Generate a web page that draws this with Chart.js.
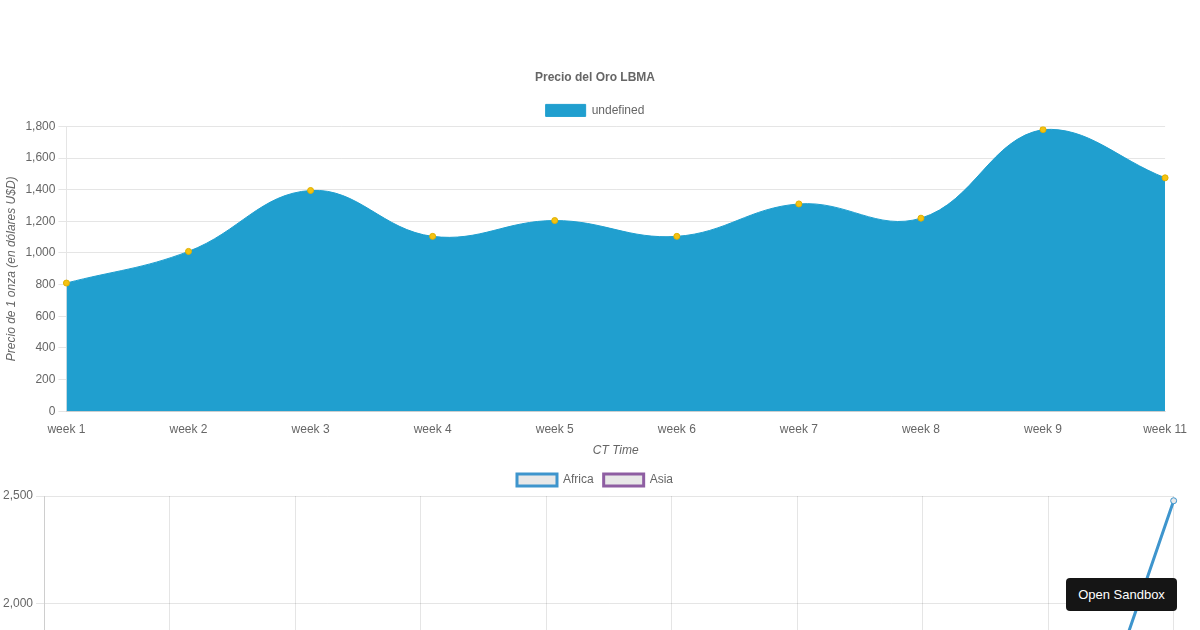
<!DOCTYPE html>
<html><head><meta charset="utf-8">
<script src="https://cdn.jsdelivr.net/npm/chart.js@4"></script>
<style>
html,body{margin:0;padding:0;background:#fff;overflow:hidden;width:1200px;height:630px;font-family:"Liberation Sans",Arial,sans-serif}
#c1w{position:absolute;left:0;top:62px;width:1190px;height:400px}
#c2w{position:absolute;left:0;top:464px;width:1190px;height:600px}
#btn{position:absolute;left:1066px;top:578px;width:111px;height:33px;background:#151515;color:#fff;border-radius:4px;font-size:13px;line-height:33px;text-align:center}
</style></head><body>
<div id="c1w"><canvas id="c1"></canvas></div>
<div id="c2w"><canvas id="c2"></canvas></div>
<div id="btn">Open Sandbox</div>
<script>
const weeks = ["week 1","week 2","week 3","week 4","week 5","week 6","week 7","week 8","week 9","week 11"];
const goldPrice = [810,1010,1395,1105,1205,1105,1310,1220,1780,1475];
const years = [1500,1600,1700,1750,1800,1850,1900,1950,1999,2050];
const africa = [86,114,106,106,107,111,133,221,783,2478];
const asia = [];
Chart.defaults.font.family = '"Liberation Sans", Arial, sans-serif';
Chart.defaults.font.size = 12;
Chart.defaults.color = '#666';
new Chart(document.getElementById('c1'), {
  type:'line',
  data:{labels:weeks,datasets:[{data:goldPrice,fill:true,backgroundColor:'#209fcf',borderColor:'#209fcf',borderWidth:1,tension:0.4,
    pointBackgroundColor:'#f5c211',pointBorderColor:'#e0b000',pointRadius:3}]},
  options:{responsive:true,maintainAspectRatio:false,animation:false,
    plugins:{title:{display:true,text:'Precio del Oro LBMA',font:{weight:'bold',size:12},padding:{top:8,bottom:10}},
      legend:{labels:{boxWidth:40,boxHeight:12,generateLabels:c=>[{text:'undefined',fillStyle:'#209fcf',strokeStyle:'#209fcf',lineWidth:1,fontColor:'#666'}]}},tooltip:{enabled:false}},
    scales:{x:{grid:{display:false},title:{display:true,text:'CT Time',font:{style:'italic'}}},
      y:{min:0,max:1800,ticks:{stepSize:200},title:{display:true,text:'Precio de 1 onza (en dólares U$D)',font:{style:'italic'}}}}}
});
new Chart(document.getElementById('c2'), {
  type:'line',
  data:{labels:years,datasets:[
    {label:'Africa',data:africa,borderColor:'#3e95cd',backgroundColor:'#e8e8e8',borderWidth:3,fill:false,tension:0,pointRadius:3,pointBorderWidth:1,pointBackgroundColor:'#e8e8e8'},
    {label:'Asia',data:asia,borderColor:'#8e5ea2',backgroundColor:'#e8e8e8',borderWidth:3,fill:false}]},
  options:{responsive:true,maintainAspectRatio:false,animation:false,
    plugins:{legend:{labels:{boxWidth:40,boxHeight:12}},tooltip:{enabled:false}},
    scales:{y:{min:0,max:2500,ticks:{stepSize:500}},x:{}}}
});
</script>
</body></html>
